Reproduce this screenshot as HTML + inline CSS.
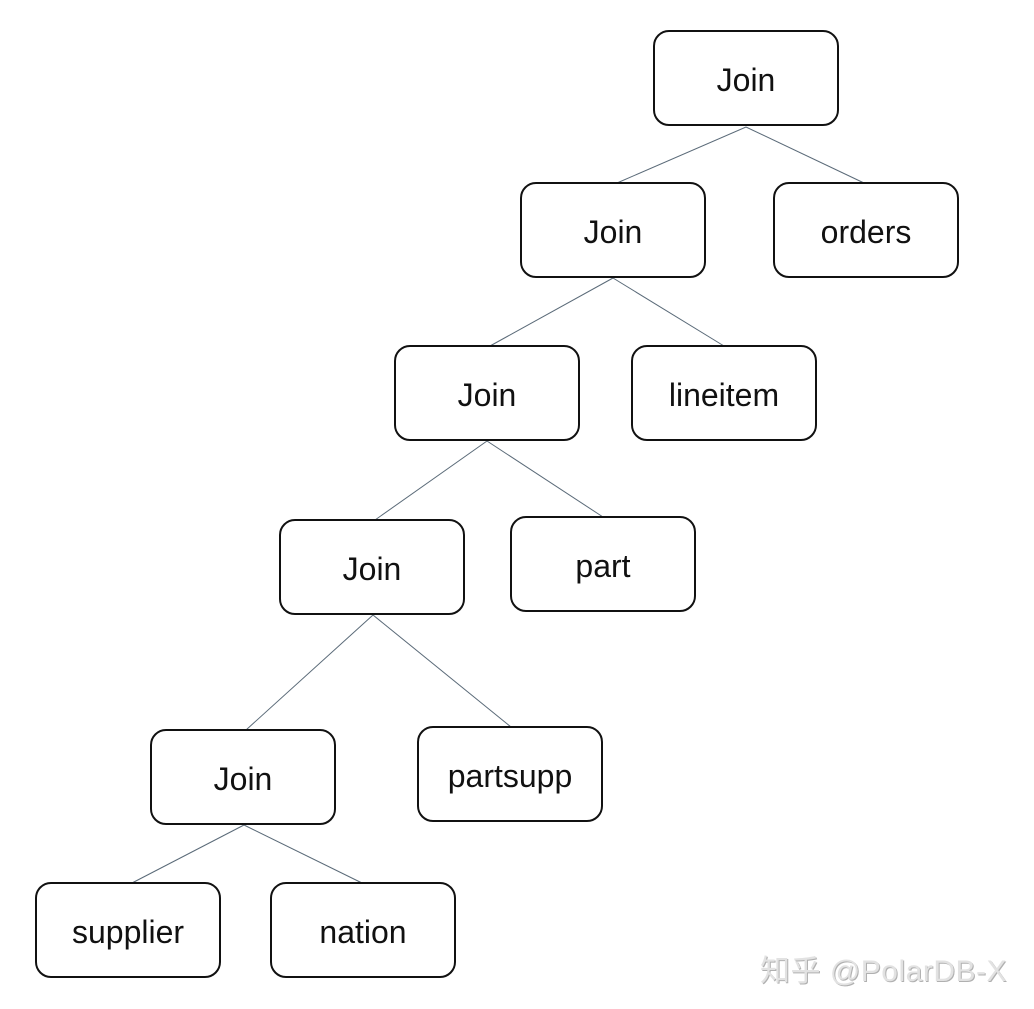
<!DOCTYPE html>
<html><head><meta charset="utf-8"><style>
body{margin:0;background:#fff;width:1034px;height:1009px;overflow:hidden;position:relative;font-family:"Liberation Sans","DejaVu Sans",sans-serif}
.b{position:absolute;box-sizing:border-box;width:186px;height:96px;border:2px solid #111;border-radius:16px;display:flex;align-items:center;justify-content:center;font-size:32px;color:#111;padding-top:4px}
svg{position:absolute;left:0;top:0}
.w{position:absolute;left:760px;top:946px;font-size:30px;letter-spacing:0.5px;color:#e2e2e2;font-family:"Liberation Sans","Noto Sans CJK SC",sans-serif;text-shadow:1px 1px 0 #b0b0b0}
</style></head><body>
<svg width="1034" height="1009"><g stroke="#5a6a78" stroke-width="1">
<line x1="746" y1="127" x2="617" y2="183"/><line x1="746" y1="127" x2="864" y2="183"/>
<line x1="613" y1="278" x2="490" y2="346"/><line x1="613" y1="278" x2="724" y2="346"/>
<line x1="487" y1="441" x2="375" y2="520"/><line x1="487" y1="441" x2="603" y2="517"/>
<line x1="373" y1="615" x2="246" y2="730"/><line x1="373" y1="615" x2="511" y2="727"/>
<line x1="244" y1="825" x2="132" y2="883"/><line x1="244" y1="825" x2="362" y2="883"/>
</g></svg>
<div class="b" style="left:653px;top:30px">Join</div>
<div class="b" style="left:520px;top:182px">Join</div>
<div class="b" style="left:773px;top:182px">orders</div>
<div class="b" style="left:394px;top:345px">Join</div>
<div class="b" style="left:631px;top:345px">lineitem</div>
<div class="b" style="left:279px;top:519px">Join</div>
<div class="b" style="left:510px;top:516px">part</div>
<div class="b" style="left:150px;top:729px">Join</div>
<div class="b" style="left:417px;top:726px">partsupp</div>
<div class="b" style="left:35px;top:882px">supplier</div>
<div class="b" style="left:270px;top:882px">nation</div>
<div class="w">知乎 @PolarDB-X</div>
</body></html>
